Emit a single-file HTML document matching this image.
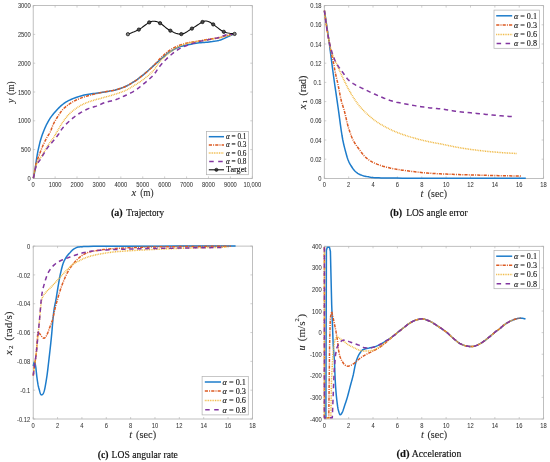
<!DOCTYPE html>
<html><head><meta charset="utf-8"><style>
html,body{margin:0;padding:0;background:#fff;}
body{width:550px;height:462px;overflow:hidden;}
svg{display:block;filter:blur(0.3px);}
.tk{font-family:"Liberation Sans",sans-serif;font-size:6.5px;fill:#333333;stroke:#333333;stroke-width:0.04px;}
.lg{font-family:"Liberation Serif",serif;fill:#111;stroke:#111;stroke-width:0.12px;}
.ax{font-family:"Liberation Serif",serif;fill:#2a2a2a;stroke:#2a2a2a;stroke-width:0.1px;}
.cap{font-family:"Liberation Serif",serif;fill:#111;stroke:#111;stroke-width:0.14px;}
</style></head><body>
<svg width="550" height="462" viewBox="0 0 550 462">
<rect width="550" height="462" fill="#fff"/>

<rect x="33.20" y="5.60" width="219.10" height="172.80" fill="none" stroke="#b0b0b0" stroke-width="0.8"/>
<line x1="33.20" y1="178.40" x2="33.20" y2="176.40" stroke="#b0b0b0" stroke-width="0.6"/>
<line x1="33.20" y1="5.60" x2="33.20" y2="7.60" stroke="#b0b0b0" stroke-width="0.6"/>
<text x="31.59" y="187.40" class="tk" textLength="3.23" lengthAdjust="spacingAndGlyphs">0</text>
<line x1="55.11" y1="178.40" x2="55.11" y2="176.40" stroke="#b0b0b0" stroke-width="0.6"/>
<line x1="55.11" y1="5.60" x2="55.11" y2="7.60" stroke="#b0b0b0" stroke-width="0.6"/>
<text x="48.66" y="187.40" class="tk" textLength="12.90" lengthAdjust="spacingAndGlyphs">1000</text>
<line x1="77.02" y1="178.40" x2="77.02" y2="176.40" stroke="#b0b0b0" stroke-width="0.6"/>
<line x1="77.02" y1="5.60" x2="77.02" y2="7.60" stroke="#b0b0b0" stroke-width="0.6"/>
<text x="70.57" y="187.40" class="tk" textLength="12.90" lengthAdjust="spacingAndGlyphs">2000</text>
<line x1="98.93" y1="178.40" x2="98.93" y2="176.40" stroke="#b0b0b0" stroke-width="0.6"/>
<line x1="98.93" y1="5.60" x2="98.93" y2="7.60" stroke="#b0b0b0" stroke-width="0.6"/>
<text x="92.48" y="187.40" class="tk" textLength="12.90" lengthAdjust="spacingAndGlyphs">3000</text>
<line x1="120.84" y1="178.40" x2="120.84" y2="176.40" stroke="#b0b0b0" stroke-width="0.6"/>
<line x1="120.84" y1="5.60" x2="120.84" y2="7.60" stroke="#b0b0b0" stroke-width="0.6"/>
<text x="114.39" y="187.40" class="tk" textLength="12.90" lengthAdjust="spacingAndGlyphs">4000</text>
<line x1="142.75" y1="178.40" x2="142.75" y2="176.40" stroke="#b0b0b0" stroke-width="0.6"/>
<line x1="142.75" y1="5.60" x2="142.75" y2="7.60" stroke="#b0b0b0" stroke-width="0.6"/>
<text x="136.30" y="187.40" class="tk" textLength="12.90" lengthAdjust="spacingAndGlyphs">5000</text>
<line x1="164.66" y1="178.40" x2="164.66" y2="176.40" stroke="#b0b0b0" stroke-width="0.6"/>
<line x1="164.66" y1="5.60" x2="164.66" y2="7.60" stroke="#b0b0b0" stroke-width="0.6"/>
<text x="158.21" y="187.40" class="tk" textLength="12.90" lengthAdjust="spacingAndGlyphs">6000</text>
<line x1="186.57" y1="178.40" x2="186.57" y2="176.40" stroke="#b0b0b0" stroke-width="0.6"/>
<line x1="186.57" y1="5.60" x2="186.57" y2="7.60" stroke="#b0b0b0" stroke-width="0.6"/>
<text x="180.12" y="187.40" class="tk" textLength="12.90" lengthAdjust="spacingAndGlyphs">7000</text>
<line x1="208.48" y1="178.40" x2="208.48" y2="176.40" stroke="#b0b0b0" stroke-width="0.6"/>
<line x1="208.48" y1="5.60" x2="208.48" y2="7.60" stroke="#b0b0b0" stroke-width="0.6"/>
<text x="202.03" y="187.40" class="tk" textLength="12.90" lengthAdjust="spacingAndGlyphs">8000</text>
<line x1="230.39" y1="178.40" x2="230.39" y2="176.40" stroke="#b0b0b0" stroke-width="0.6"/>
<line x1="230.39" y1="5.60" x2="230.39" y2="7.60" stroke="#b0b0b0" stroke-width="0.6"/>
<text x="223.94" y="187.40" class="tk" textLength="12.90" lengthAdjust="spacingAndGlyphs">9000</text>
<line x1="252.30" y1="178.40" x2="252.30" y2="176.40" stroke="#b0b0b0" stroke-width="0.6"/>
<line x1="252.30" y1="5.60" x2="252.30" y2="7.60" stroke="#b0b0b0" stroke-width="0.6"/>
<text x="243.43" y="187.40" class="tk" textLength="17.74" lengthAdjust="spacingAndGlyphs">10,000</text>
<line x1="33.20" y1="178.40" x2="35.20" y2="178.40" stroke="#b0b0b0" stroke-width="0.6"/>
<line x1="252.30" y1="178.40" x2="250.30" y2="178.40" stroke="#b0b0b0" stroke-width="0.6"/>
<text x="27.57" y="181.00" class="tk" textLength="3.23" lengthAdjust="spacingAndGlyphs">0</text>
<line x1="33.20" y1="149.60" x2="35.20" y2="149.60" stroke="#b0b0b0" stroke-width="0.6"/>
<line x1="252.30" y1="149.60" x2="250.30" y2="149.60" stroke="#b0b0b0" stroke-width="0.6"/>
<text x="21.12" y="152.20" class="tk" textLength="9.68" lengthAdjust="spacingAndGlyphs">500</text>
<line x1="33.20" y1="120.80" x2="35.20" y2="120.80" stroke="#b0b0b0" stroke-width="0.6"/>
<line x1="252.30" y1="120.80" x2="250.30" y2="120.80" stroke="#b0b0b0" stroke-width="0.6"/>
<text x="17.90" y="123.40" class="tk" textLength="12.90" lengthAdjust="spacingAndGlyphs">1000</text>
<line x1="33.20" y1="92.00" x2="35.20" y2="92.00" stroke="#b0b0b0" stroke-width="0.6"/>
<line x1="252.30" y1="92.00" x2="250.30" y2="92.00" stroke="#b0b0b0" stroke-width="0.6"/>
<text x="17.90" y="94.60" class="tk" textLength="12.90" lengthAdjust="spacingAndGlyphs">1500</text>
<line x1="33.20" y1="63.20" x2="35.20" y2="63.20" stroke="#b0b0b0" stroke-width="0.6"/>
<line x1="252.30" y1="63.20" x2="250.30" y2="63.20" stroke="#b0b0b0" stroke-width="0.6"/>
<text x="17.90" y="65.80" class="tk" textLength="12.90" lengthAdjust="spacingAndGlyphs">2000</text>
<line x1="33.20" y1="34.40" x2="35.20" y2="34.40" stroke="#b0b0b0" stroke-width="0.6"/>
<line x1="252.30" y1="34.40" x2="250.30" y2="34.40" stroke="#b0b0b0" stroke-width="0.6"/>
<text x="17.90" y="37.00" class="tk" textLength="12.90" lengthAdjust="spacingAndGlyphs">2500</text>
<line x1="33.20" y1="5.60" x2="35.20" y2="5.60" stroke="#b0b0b0" stroke-width="0.6"/>
<line x1="252.30" y1="5.60" x2="250.30" y2="5.60" stroke="#b0b0b0" stroke-width="0.6"/>
<text x="17.90" y="8.20" class="tk" textLength="12.90" lengthAdjust="spacingAndGlyphs">3000</text>
<path d="M33.40,178.20 L33.68,176.96 L33.97,175.62 L34.25,174.19 L34.53,172.67 L34.82,171.07 L35.10,169.40 L35.37,167.67 L35.63,165.74 L35.90,163.71 L36.17,161.68 L36.43,159.74 L36.70,158.00 L37.03,156.04 L37.37,154.18 L37.70,152.41 L38.03,150.73 L38.37,149.13 L38.70,147.60 L39.05,146.06 L39.40,144.57 L39.75,143.15 L40.10,141.80 L40.45,140.51 L40.80,139.30 L41.23,137.89 L41.67,136.56 L42.10,135.29 L42.53,134.09 L42.97,132.92 L43.40,131.80 L43.92,130.50 L44.43,129.24 L44.95,128.03 L45.47,126.86 L45.98,125.75 L46.50,124.70 L47.23,123.27 L47.97,121.90 L48.70,120.59 L49.43,119.35 L50.17,118.19 L50.90,117.10 L51.82,115.84 L52.73,114.67 L53.65,113.57 L54.57,112.52 L55.48,111.50 L56.40,110.50 L57.30,109.52 L58.20,108.55 L59.10,107.61 L60.00,106.71 L60.90,105.87 L61.80,105.10 L62.90,104.24 L64.00,103.43 L65.10,102.66 L66.20,101.95 L67.30,101.30 L68.40,100.70 L69.67,100.07 L70.93,99.48 L72.20,98.93 L73.47,98.42 L74.73,97.95 L76.00,97.50 L77.63,96.95 L79.27,96.41 L80.90,95.91 L82.53,95.45 L84.17,95.05 L85.80,94.70 L87.30,94.44 L88.80,94.21 L90.30,94.00 L91.80,93.81 L93.30,93.61 L94.80,93.40 L96.43,93.16 L98.07,92.91 L99.70,92.67 L101.33,92.42 L102.97,92.16 L104.60,91.90 L106.25,91.64 L107.90,91.39 L109.55,91.13 L111.20,90.85 L112.85,90.55 L114.50,90.20 L116.13,89.80 L117.77,89.34 L119.40,88.83 L121.03,88.26 L122.67,87.65 L124.30,87.00 L125.93,86.28 L127.57,85.46 L129.20,84.57 L130.83,83.62 L132.47,82.63 L134.10,81.60 L135.73,80.52 L137.37,79.38 L139.00,78.17 L140.63,76.91 L142.27,75.62 L143.90,74.30 L145.53,72.94 L147.17,71.51 L148.80,70.05 L150.43,68.56 L152.07,67.07 L153.70,65.60 L154.75,64.66 L155.80,63.72 L156.85,62.78 L157.90,61.84 L158.95,60.92 L160.00,60.00 L161.63,58.55 L163.27,57.07 L164.90,55.61 L166.53,54.21 L168.17,52.92 L169.80,51.80 L171.43,50.80 L173.07,49.86 L174.70,48.98 L176.33,48.19 L177.97,47.49 L179.60,46.90 L181.25,46.39 L182.90,45.95 L184.55,45.55 L186.20,45.18 L187.85,44.83 L189.50,44.50 L191.13,44.17 L192.77,43.85 L194.40,43.54 L196.03,43.26 L197.67,43.01 L199.30,42.80 L200.93,42.64 L202.57,42.51 L204.20,42.40 L205.83,42.28 L207.47,42.16 L209.10,42.00 L210.73,41.81 L212.37,41.60 L214.00,41.35 L215.63,41.08 L217.27,40.76 L218.90,40.40 L220.53,39.93 L222.17,39.31 L223.80,38.59 L225.43,37.82 L227.07,37.04 L228.70,36.30 L229.52,35.94 L230.33,35.58 L231.15,35.21 L231.97,34.85 L232.78,34.47 L233.60,34.10" fill="none" stroke="#1d7ccb" stroke-width="1.50" stroke-linejoin="round" />
<path d="M33.40,178.20 L33.87,175.18 L34.33,172.32 L34.80,169.65 L35.27,167.22 L35.73,165.06 L36.20,163.20 L36.72,161.47 L37.23,159.96 L37.75,158.61 L38.27,157.35 L38.78,156.10 L39.30,154.80 L39.98,153.01 L40.67,151.21 L41.35,149.44 L42.03,147.72 L42.72,146.06 L43.40,144.50 L44.02,143.17 L44.63,141.89 L45.25,140.67 L45.87,139.48 L46.48,138.33 L47.10,137.20 L47.62,136.31 L48.13,135.48 L48.65,134.68 L49.17,133.86 L49.68,132.98 L50.20,132.00 L50.68,130.92 L51.17,129.69 L51.65,128.38 L52.13,127.06 L52.62,125.81 L53.10,124.70 L53.82,123.25 L54.53,121.89 L55.25,120.61 L55.97,119.40 L56.68,118.24 L57.40,117.10 L58.32,115.66 L59.23,114.25 L60.15,112.89 L61.07,111.61 L61.98,110.44 L62.90,109.40 L63.98,108.31 L65.07,107.32 L66.15,106.40 L67.23,105.55 L68.32,104.75 L69.40,104.00 L70.68,103.15 L71.97,102.34 L73.25,101.58 L74.53,100.87 L75.82,100.21 L77.10,99.60 L78.55,98.97 L80.00,98.39 L81.45,97.85 L82.90,97.34 L84.35,96.86 L85.80,96.40 L87.30,95.95 L88.80,95.52 L90.30,95.12 L91.80,94.73 L93.30,94.36 L94.80,94.00 L96.43,93.62 L98.07,93.25 L99.70,92.89 L101.33,92.55 L102.97,92.22 L104.60,91.90 L106.25,91.61 L107.90,91.34 L109.55,91.09 L111.20,90.83 L112.85,90.54 L114.50,90.20 L116.13,89.80 L117.77,89.34 L119.40,88.83 L121.03,88.26 L122.67,87.65 L124.30,87.00 L125.93,86.28 L127.57,85.46 L129.20,84.57 L130.83,83.62 L132.47,82.63 L134.10,81.60 L135.73,80.52 L137.37,79.38 L139.00,78.17 L140.63,76.91 L142.27,75.62 L143.90,74.30 L145.53,72.96 L147.17,71.59 L148.80,70.18 L150.43,68.71 L152.07,67.19 L153.70,65.60 L154.75,64.50 L155.80,63.31 L156.85,62.09 L157.90,60.86 L158.95,59.69 L160.00,58.60 L161.63,57.01 L163.27,55.46 L164.90,53.98 L166.53,52.59 L168.17,51.32 L169.80,50.20 L171.43,49.20 L173.07,48.28 L174.70,47.42 L176.33,46.64 L177.97,45.93 L179.60,45.30 L181.25,44.73 L182.90,44.20 L184.55,43.71 L186.20,43.26 L187.85,42.86 L189.50,42.50 L191.13,42.18 L192.77,41.91 L194.40,41.65 L196.03,41.41 L197.67,41.16 L199.30,40.90 L200.93,40.62 L202.57,40.34 L204.20,40.05 L205.83,39.76 L207.47,39.48 L209.10,39.20 L210.73,38.94 L212.37,38.69 L214.00,38.44 L215.63,38.19 L217.27,37.91 L218.90,37.60 L220.53,37.23 L222.17,36.79 L223.80,36.31 L225.43,35.84 L227.07,35.39 L228.70,35.00 L229.52,34.83 L230.33,34.67 L231.15,34.52 L231.97,34.37 L232.78,34.23 L233.60,34.10" fill="none" stroke="#dc5a22" stroke-width="1.50" stroke-dasharray="3.2,1.1,1.0,1.1" stroke-linejoin="round" />
<path d="M33.40,178.20 L33.87,175.60 L34.33,173.06 L34.80,170.67 L35.27,168.50 L35.73,166.65 L36.20,165.20 L37.23,162.79 L38.27,160.86 L39.30,159.26 L40.33,157.83 L41.37,156.39 L42.40,154.80 L43.43,153.06 L44.47,151.29 L45.50,149.53 L46.53,147.80 L47.57,146.11 L48.60,144.50 L49.47,143.23 L50.33,142.03 L51.20,140.86 L52.07,139.69 L52.93,138.48 L53.80,137.20 L54.32,136.38 L54.83,135.53 L55.35,134.66 L55.87,133.77 L56.38,132.88 L56.90,132.00 L57.72,130.59 L58.53,129.14 L59.35,127.68 L60.17,126.25 L60.98,124.88 L61.80,123.60 L62.90,121.97 L64.00,120.39 L65.10,118.87 L66.20,117.44 L67.30,116.11 L68.40,114.90 L69.67,113.62 L70.93,112.43 L72.20,111.32 L73.47,110.28 L74.73,109.31 L76.00,108.40 L77.27,107.55 L78.53,106.74 L79.80,105.98 L81.07,105.27 L82.33,104.61 L83.60,104.00 L85.05,103.36 L86.50,102.76 L87.95,102.20 L89.40,101.67 L90.85,101.18 L92.30,100.70 L94.35,100.07 L96.40,99.49 L98.45,98.94 L100.50,98.41 L102.55,97.87 L104.60,97.30 L106.25,96.83 L107.90,96.36 L109.55,95.89 L111.20,95.41 L112.85,94.91 L114.50,94.40 L116.13,93.88 L117.77,93.37 L119.40,92.83 L121.03,92.27 L122.67,91.66 L124.30,91.00 L125.93,90.25 L127.57,89.42 L129.20,88.52 L130.83,87.57 L132.47,86.59 L134.10,85.60 L135.73,84.60 L137.37,83.57 L139.00,82.50 L140.63,81.39 L142.27,80.22 L143.90,79.00 L145.53,77.73 L147.17,76.40 L148.80,75.01 L150.43,73.53 L152.07,71.93 L153.70,70.20 L154.75,68.91 L155.80,67.44 L156.85,65.86 L157.90,64.28 L158.95,62.80 L160.00,61.50 L161.63,59.74 L163.27,58.10 L164.90,56.56 L166.53,55.13 L168.17,53.78 L169.80,52.50 L171.43,51.26 L173.07,50.05 L174.70,48.91 L176.33,47.85 L177.97,46.90 L179.60,46.10 L181.25,45.40 L182.90,44.76 L184.55,44.17 L186.20,43.65 L187.85,43.19 L189.50,42.80 L191.13,42.47 L192.77,42.19 L194.40,41.93 L196.03,41.69 L197.67,41.45 L199.30,41.20 L200.93,40.93 L202.57,40.67 L204.20,40.41 L205.83,40.14 L207.47,39.87 L209.10,39.60 L210.73,39.33 L212.37,39.06 L214.00,38.79 L215.63,38.51 L217.27,38.22 L218.90,37.90 L220.53,37.55 L222.17,37.18 L223.80,36.78 L225.43,36.36 L227.07,35.93 L228.70,35.50 L229.52,35.28 L230.33,35.05 L231.15,34.82 L231.97,34.58 L232.78,34.34 L233.60,34.10" fill="none" stroke="#efb53a" stroke-width="1.50" stroke-dasharray="0.9,0.8" stroke-linejoin="round" />
<path d="M33.40,178.20 L33.87,175.80 L34.33,173.48 L34.80,171.30 L35.27,169.33 L35.73,167.64 L36.20,166.30 L37.05,164.43 L37.90,162.91 L38.75,161.63 L39.60,160.46 L40.45,159.29 L41.30,158.00 L42.35,156.24 L43.40,154.42 L44.45,152.59 L45.50,150.81 L46.55,149.13 L47.60,147.60 L48.63,146.25 L49.67,145.01 L50.70,143.84 L51.73,142.69 L52.77,141.53 L53.80,140.30 L54.67,139.24 L55.53,138.17 L56.40,137.09 L57.27,135.98 L58.13,134.82 L59.00,133.60 L59.47,132.88 L59.93,132.11 L60.40,131.31 L60.87,130.52 L61.33,129.77 L61.80,129.10 L62.90,127.71 L64.00,126.43 L65.10,125.24 L66.20,124.12 L67.30,123.05 L68.40,122.00 L69.48,120.99 L70.57,120.02 L71.65,119.08 L72.73,118.19 L73.82,117.32 L74.90,116.50 L75.98,115.71 L77.07,114.94 L78.15,114.21 L79.23,113.50 L80.32,112.83 L81.40,112.20 L82.68,111.48 L83.97,110.79 L85.25,110.13 L86.53,109.51 L87.82,108.93 L89.10,108.40 L90.55,107.87 L92.00,107.41 L93.45,106.98 L94.90,106.56 L96.35,106.11 L97.80,105.60 L98.93,105.13 L100.07,104.61 L101.20,104.06 L102.33,103.52 L103.47,103.02 L104.60,102.60 L106.25,102.11 L107.90,101.70 L109.55,101.34 L111.20,100.97 L112.85,100.57 L114.50,100.10 L116.13,99.54 L117.77,98.91 L119.40,98.22 L121.03,97.50 L122.67,96.75 L124.30,96.00 L125.93,95.26 L127.57,94.50 L129.20,93.73 L130.83,92.91 L132.47,92.04 L134.10,91.10 L135.73,90.06 L137.37,88.91 L139.00,87.68 L140.63,86.39 L142.27,85.05 L143.90,83.70 L145.53,82.35 L147.17,80.98 L148.80,79.56 L150.43,78.06 L152.07,76.45 L153.70,74.70 L154.75,73.41 L155.80,71.96 L156.85,70.41 L157.90,68.85 L158.95,67.35 L160.00,66.00 L161.63,64.09 L163.27,62.28 L164.90,60.55 L166.53,58.91 L168.17,57.36 L169.80,55.90 L171.43,54.50 L173.07,53.14 L174.70,51.84 L176.33,50.64 L177.97,49.55 L179.60,48.60 L181.25,47.77 L182.90,47.01 L184.55,46.33 L186.20,45.69 L187.85,45.08 L189.50,44.50 L191.13,43.93 L192.77,43.38 L194.40,42.86 L196.03,42.37 L197.67,41.91 L199.30,41.50 L200.93,41.14 L202.57,40.81 L204.20,40.50 L205.83,40.21 L207.47,39.91 L209.10,39.60 L210.73,39.28 L212.37,38.98 L214.00,38.67 L215.63,38.34 L217.27,37.99 L218.90,37.60 L220.53,37.08 L222.17,36.42 L223.80,35.72 L225.43,35.07 L227.07,34.56 L228.70,34.30 L229.52,34.25 L230.33,34.20 L231.15,34.16 L231.97,34.13 L232.78,34.11 L233.60,34.10" fill="none" stroke="#8236a0" stroke-width="1.50" stroke-dasharray="4.4,3.6" stroke-linejoin="round" />
<path d="M127.90,34.20 L128.74,33.86 L129.87,33.43 L131.21,32.93 L132.70,32.35 L134.27,31.72 L135.85,31.04 L137.39,30.33 L138.80,29.60 L140.16,28.78 L141.55,27.84 L142.96,26.82 L144.34,25.78 L145.69,24.77 L146.96,23.83 L148.14,23.03 L149.20,22.40 L150.11,21.95 L150.90,21.63 L151.59,21.41 L152.21,21.28 L152.79,21.22 L153.36,21.22 L153.95,21.25 L154.60,21.30 L155.25,21.36 L155.86,21.43 L156.44,21.55 L157.04,21.71 L157.68,21.95 L158.39,22.26 L159.18,22.67 L160.10,23.20 L161.15,23.90 L162.32,24.78 L163.58,25.78 L164.91,26.86 L166.28,27.94 L167.67,28.98 L169.05,29.92 L170.40,30.70 L171.74,31.38 L173.09,32.05 L174.46,32.67 L175.83,33.21 L177.21,33.66 L178.58,33.97 L179.95,34.13 L181.30,34.10 L182.64,33.85 L183.97,33.38 L185.30,32.74 L186.62,31.98 L187.94,31.13 L189.26,30.26 L190.58,29.40 L191.90,28.60 L193.26,27.79 L194.68,26.89 L196.12,25.95 L197.54,25.00 L198.93,24.09 L200.24,23.26 L201.44,22.55 L202.50,22.00 L203.40,21.60 L204.15,21.32 L204.79,21.14 L205.36,21.04 L205.89,21.02 L206.42,21.07 L206.98,21.17 L207.60,21.30 L208.24,21.48 L208.85,21.71 L209.44,22.00 L210.06,22.34 L210.71,22.76 L211.44,23.23 L212.26,23.78 L213.20,24.40 L214.28,25.16 L215.49,26.07 L216.80,27.09 L218.18,28.16 L219.59,29.22 L221.02,30.22 L222.43,31.10 L223.80,31.80 L225.21,32.33 L226.74,32.75 L228.31,33.07 L229.86,33.31 L231.33,33.50 L232.65,33.65 L233.77,33.77 L234.60,33.90" fill="none" stroke="#111" stroke-width="1.1"/>
<circle cx="127.90" cy="34.20" r="1.65" fill="#8a8a8a" stroke="#111" stroke-width="0.75"/>
<circle cx="138.80" cy="29.60" r="1.65" fill="#4a4a4a" stroke="#111" stroke-width="0.75"/>
<circle cx="149.20" cy="22.40" r="1.65" fill="#4a4a4a" stroke="#111" stroke-width="0.75"/>
<circle cx="160.10" cy="23.20" r="1.65" fill="#4a4a4a" stroke="#111" stroke-width="0.75"/>
<circle cx="170.40" cy="30.70" r="1.65" fill="#4a4a4a" stroke="#111" stroke-width="0.75"/>
<circle cx="181.30" cy="34.10" r="1.65" fill="#4a4a4a" stroke="#111" stroke-width="0.75"/>
<circle cx="191.90" cy="28.60" r="1.65" fill="#4a4a4a" stroke="#111" stroke-width="0.75"/>
<circle cx="202.50" cy="22.00" r="1.65" fill="#4a4a4a" stroke="#111" stroke-width="0.75"/>
<circle cx="213.20" cy="24.40" r="1.65" fill="#4a4a4a" stroke="#111" stroke-width="0.75"/>
<circle cx="223.80" cy="31.80" r="1.65" fill="#4a4a4a" stroke="#111" stroke-width="0.75"/>
<circle cx="234.60" cy="33.90" r="1.65" fill="#8a8a8a" stroke="#111" stroke-width="0.75"/>
<rect x="206.50" y="131.40" width="41.90" height="43.30" fill="#fff" stroke="#b0b0b0" stroke-width="0.7"/>
<line x1="208.80" y1="136.70" x2="224.00" y2="136.70" stroke="#1d7ccb" stroke-width="1.50"/>
<text x="226.00" y="139.29" class="lg" style="font-size:7.20px" textLength="20.50" lengthAdjust="spacingAndGlyphs"><tspan font-style="italic">&#945;</tspan> = 0.1</text>
<line x1="208.80" y1="144.90" x2="224.00" y2="144.90" stroke="#dc5a22" stroke-width="1.50" stroke-dasharray="3.2,1.1,1.0,1.1"/>
<text x="226.00" y="147.49" class="lg" style="font-size:7.20px" textLength="20.50" lengthAdjust="spacingAndGlyphs"><tspan font-style="italic">&#945;</tspan> = 0.3</text>
<line x1="208.80" y1="153.10" x2="224.00" y2="153.10" stroke="#efb53a" stroke-width="1.50" stroke-dasharray="0.9,0.8"/>
<text x="226.00" y="155.69" class="lg" style="font-size:7.20px" textLength="20.50" lengthAdjust="spacingAndGlyphs"><tspan font-style="italic">&#945;</tspan> = 0.6</text>
<line x1="208.80" y1="161.40" x2="224.00" y2="161.40" stroke="#8236a0" stroke-width="1.50" stroke-dasharray="4.5,4.5" stroke-dashoffset="-0.4"/>
<text x="226.00" y="163.99" class="lg" style="font-size:7.20px" textLength="20.50" lengthAdjust="spacingAndGlyphs"><tspan font-style="italic">&#945;</tspan> = 0.8</text>
<line x1="208.80" y1="169.80" x2="224.00" y2="169.80" stroke="#111" stroke-width="1.1"/>
<circle cx="216.40" cy="169.80" r="1.6" fill="#333" stroke="#111" stroke-width="0.6"/>
<text x="226.00" y="172.39" class="lg" style="font-size:7.20px" textLength="20.50" lengthAdjust="spacingAndGlyphs">Target</text>
<text x="131.50" y="195.60" class="ax" style="font-size:10.60px;font-style:italic">x</text>
<text x="140.30" y="195.60" class="ax" style="font-size:10.60px" textLength="13.30" lengthAdjust="spacingAndGlyphs">(m)</text>
<text transform="translate(14.10,0) rotate(-90)" x="-103.00" y="0.00" class="ax" style="font-size:10.00px;font-style:italic">y</text>
<text transform="translate(14.10,0) rotate(-90)" x="-95.00" y="0.00" class="ax" style="font-size:10.00px" textLength="13.80" lengthAdjust="spacingAndGlyphs">(m)</text>
<text x="110.90" y="215.80" class="cap" style="font-size:9.90px;font-weight:bold" textLength="11.80" lengthAdjust="spacingAndGlyphs">(a)</text>
<text x="126.30" y="215.80" class="cap" style="font-size:9.90px" textLength="37.80" lengthAdjust="spacingAndGlyphs">Trajectory</text>
<rect x="324.30" y="5.60" width="219.30" height="172.80" fill="none" stroke="#b0b0b0" stroke-width="0.8"/>
<line x1="324.30" y1="178.40" x2="324.30" y2="176.40" stroke="#b0b0b0" stroke-width="0.6"/>
<line x1="324.30" y1="5.60" x2="324.30" y2="7.60" stroke="#b0b0b0" stroke-width="0.6"/>
<text x="322.69" y="187.25" class="tk" textLength="3.23" lengthAdjust="spacingAndGlyphs">0</text>
<line x1="348.67" y1="178.40" x2="348.67" y2="176.40" stroke="#b0b0b0" stroke-width="0.6"/>
<line x1="348.67" y1="5.60" x2="348.67" y2="7.60" stroke="#b0b0b0" stroke-width="0.6"/>
<text x="347.05" y="187.25" class="tk" textLength="3.23" lengthAdjust="spacingAndGlyphs">2</text>
<line x1="373.03" y1="178.40" x2="373.03" y2="176.40" stroke="#b0b0b0" stroke-width="0.6"/>
<line x1="373.03" y1="5.60" x2="373.03" y2="7.60" stroke="#b0b0b0" stroke-width="0.6"/>
<text x="371.42" y="187.25" class="tk" textLength="3.23" lengthAdjust="spacingAndGlyphs">4</text>
<line x1="397.40" y1="178.40" x2="397.40" y2="176.40" stroke="#b0b0b0" stroke-width="0.6"/>
<line x1="397.40" y1="5.60" x2="397.40" y2="7.60" stroke="#b0b0b0" stroke-width="0.6"/>
<text x="395.79" y="187.25" class="tk" textLength="3.23" lengthAdjust="spacingAndGlyphs">6</text>
<line x1="421.77" y1="178.40" x2="421.77" y2="176.40" stroke="#b0b0b0" stroke-width="0.6"/>
<line x1="421.77" y1="5.60" x2="421.77" y2="7.60" stroke="#b0b0b0" stroke-width="0.6"/>
<text x="420.15" y="187.25" class="tk" textLength="3.23" lengthAdjust="spacingAndGlyphs">8</text>
<line x1="446.13" y1="178.40" x2="446.13" y2="176.40" stroke="#b0b0b0" stroke-width="0.6"/>
<line x1="446.13" y1="5.60" x2="446.13" y2="7.60" stroke="#b0b0b0" stroke-width="0.6"/>
<text x="442.91" y="187.25" class="tk" textLength="6.45" lengthAdjust="spacingAndGlyphs">10</text>
<line x1="470.50" y1="178.40" x2="470.50" y2="176.40" stroke="#b0b0b0" stroke-width="0.6"/>
<line x1="470.50" y1="5.60" x2="470.50" y2="7.60" stroke="#b0b0b0" stroke-width="0.6"/>
<text x="467.27" y="187.25" class="tk" textLength="6.45" lengthAdjust="spacingAndGlyphs">12</text>
<line x1="494.87" y1="178.40" x2="494.87" y2="176.40" stroke="#b0b0b0" stroke-width="0.6"/>
<line x1="494.87" y1="5.60" x2="494.87" y2="7.60" stroke="#b0b0b0" stroke-width="0.6"/>
<text x="491.64" y="187.25" class="tk" textLength="6.45" lengthAdjust="spacingAndGlyphs">14</text>
<line x1="519.23" y1="178.40" x2="519.23" y2="176.40" stroke="#b0b0b0" stroke-width="0.6"/>
<line x1="519.23" y1="5.60" x2="519.23" y2="7.60" stroke="#b0b0b0" stroke-width="0.6"/>
<text x="516.01" y="187.25" class="tk" textLength="6.45" lengthAdjust="spacingAndGlyphs">16</text>
<line x1="543.60" y1="178.40" x2="543.60" y2="176.40" stroke="#b0b0b0" stroke-width="0.6"/>
<line x1="543.60" y1="5.60" x2="543.60" y2="7.60" stroke="#b0b0b0" stroke-width="0.6"/>
<text x="540.37" y="187.25" class="tk" textLength="6.45" lengthAdjust="spacingAndGlyphs">18</text>
<line x1="324.30" y1="178.40" x2="326.30" y2="178.40" stroke="#b0b0b0" stroke-width="0.6"/>
<line x1="543.60" y1="178.40" x2="541.60" y2="178.40" stroke="#b0b0b0" stroke-width="0.6"/>
<text x="318.37" y="181.00" class="tk" textLength="3.23" lengthAdjust="spacingAndGlyphs">0</text>
<line x1="324.30" y1="159.20" x2="326.30" y2="159.20" stroke="#b0b0b0" stroke-width="0.6"/>
<line x1="543.60" y1="159.20" x2="541.60" y2="159.20" stroke="#b0b0b0" stroke-width="0.6"/>
<text x="310.31" y="161.80" class="tk" textLength="11.29" lengthAdjust="spacingAndGlyphs">0.02</text>
<line x1="324.30" y1="140.00" x2="326.30" y2="140.00" stroke="#b0b0b0" stroke-width="0.6"/>
<line x1="543.60" y1="140.00" x2="541.60" y2="140.00" stroke="#b0b0b0" stroke-width="0.6"/>
<text x="310.31" y="142.60" class="tk" textLength="11.29" lengthAdjust="spacingAndGlyphs">0.04</text>
<line x1="324.30" y1="120.80" x2="326.30" y2="120.80" stroke="#b0b0b0" stroke-width="0.6"/>
<line x1="543.60" y1="120.80" x2="541.60" y2="120.80" stroke="#b0b0b0" stroke-width="0.6"/>
<text x="310.31" y="123.40" class="tk" textLength="11.29" lengthAdjust="spacingAndGlyphs">0.06</text>
<line x1="324.30" y1="101.60" x2="326.30" y2="101.60" stroke="#b0b0b0" stroke-width="0.6"/>
<line x1="543.60" y1="101.60" x2="541.60" y2="101.60" stroke="#b0b0b0" stroke-width="0.6"/>
<text x="310.31" y="104.20" class="tk" textLength="11.29" lengthAdjust="spacingAndGlyphs">0.08</text>
<line x1="324.30" y1="82.40" x2="326.30" y2="82.40" stroke="#b0b0b0" stroke-width="0.6"/>
<line x1="543.60" y1="82.40" x2="541.60" y2="82.40" stroke="#b0b0b0" stroke-width="0.6"/>
<text x="313.54" y="85.00" class="tk" textLength="8.06" lengthAdjust="spacingAndGlyphs">0.1</text>
<line x1="324.30" y1="63.20" x2="326.30" y2="63.20" stroke="#b0b0b0" stroke-width="0.6"/>
<line x1="543.60" y1="63.20" x2="541.60" y2="63.20" stroke="#b0b0b0" stroke-width="0.6"/>
<text x="310.31" y="65.80" class="tk" textLength="11.29" lengthAdjust="spacingAndGlyphs">0.12</text>
<line x1="324.30" y1="44.00" x2="326.30" y2="44.00" stroke="#b0b0b0" stroke-width="0.6"/>
<line x1="543.60" y1="44.00" x2="541.60" y2="44.00" stroke="#b0b0b0" stroke-width="0.6"/>
<text x="310.31" y="46.60" class="tk" textLength="11.29" lengthAdjust="spacingAndGlyphs">0.14</text>
<line x1="324.30" y1="24.80" x2="326.30" y2="24.80" stroke="#b0b0b0" stroke-width="0.6"/>
<line x1="543.60" y1="24.80" x2="541.60" y2="24.80" stroke="#b0b0b0" stroke-width="0.6"/>
<text x="310.31" y="27.40" class="tk" textLength="11.29" lengthAdjust="spacingAndGlyphs">0.16</text>
<line x1="324.30" y1="5.60" x2="326.30" y2="5.60" stroke="#b0b0b0" stroke-width="0.6"/>
<line x1="543.60" y1="5.60" x2="541.60" y2="5.60" stroke="#b0b0b0" stroke-width="0.6"/>
<text x="310.31" y="8.20" class="tk" textLength="11.29" lengthAdjust="spacingAndGlyphs">0.18</text>
<path d="M324.40,10.60 L325.13,15.17 L325.87,19.86 L326.60,24.67 L327.33,29.60 L328.07,34.64 L328.80,39.80 L329.57,45.41 L330.33,51.28 L331.10,57.29 L331.87,63.33 L332.63,69.27 L333.40,75.00 L334.17,80.51 L334.93,85.91 L335.70,91.21 L336.47,96.47 L337.23,101.72 L338.00,107.00 L338.80,112.72 L339.60,118.66 L340.40,124.60 L341.20,130.29 L342.00,135.50 L342.80,140.00 L343.25,142.19 L343.70,144.22 L344.15,146.11 L344.60,147.90 L345.05,149.62 L345.50,151.30 L345.93,152.91 L346.37,154.51 L346.80,156.05 L347.23,157.51 L347.67,158.84 L348.10,160.00 L348.62,161.22 L349.13,162.33 L349.65,163.34 L350.17,164.28 L350.68,165.16 L351.20,166.00 L351.85,167.02 L352.50,168.00 L353.15,168.93 L353.80,169.79 L354.45,170.55 L355.10,171.20 L355.97,171.96 L356.83,172.65 L357.70,173.27 L358.57,173.82 L359.43,174.30 L360.30,174.70 L361.25,175.07 L362.20,175.40 L363.15,175.70 L364.10,175.96 L365.05,176.19 L366.00,176.40 L367.15,176.64 L368.30,176.86 L369.45,177.07 L370.60,177.25 L371.75,177.40 L372.90,177.50 L374.92,177.63 L376.93,177.74 L378.95,177.84 L380.97,177.91 L382.98,177.97 L385.00,178.00 L390.83,178.06 L396.67,178.11 L402.50,178.14 L408.33,178.17 L414.17,178.19 L420.00,178.20 L437.63,178.23 L455.27,178.25 L472.90,178.27 L490.53,178.29 L508.17,178.30 L525.80,178.30" fill="none" stroke="#1d7ccb" stroke-width="1.50" stroke-linejoin="round" />
<path d="M324.40,10.60 L325.13,16.00 L325.87,21.17 L326.60,26.13 L327.33,30.88 L328.07,35.43 L328.80,39.80 L329.17,41.90 L329.53,43.93 L329.90,45.90 L330.27,47.81 L330.63,49.67 L331.00,51.50 L331.42,53.50 L331.83,55.40 L332.25,57.26 L332.67,59.12 L333.08,61.01 L333.50,63.00 L333.85,64.78 L334.20,66.64 L334.55,68.55 L334.90,70.44 L335.25,72.28 L335.60,74.00 L335.93,75.52 L336.27,76.96 L336.60,78.35 L336.93,79.73 L337.27,81.13 L337.60,82.60 L338.25,85.70 L338.90,89.00 L339.55,92.38 L340.20,95.68 L340.85,98.77 L341.50,101.50 L341.93,103.07 L342.37,104.50 L342.80,105.84 L343.23,107.16 L343.67,108.52 L344.10,110.00 L344.85,112.88 L345.60,116.04 L346.35,119.32 L347.10,122.55 L347.85,125.56 L348.60,128.20 L349.37,130.59 L350.13,132.85 L350.90,134.96 L351.67,136.92 L352.43,138.71 L353.20,140.30 L354.20,142.14 L355.20,143.78 L356.20,145.28 L357.20,146.69 L358.20,148.05 L359.20,149.40 L360.22,150.80 L361.23,152.20 L362.25,153.55 L363.27,154.83 L364.28,155.99 L365.30,157.00 L366.57,158.10 L367.83,159.11 L369.10,160.04 L370.37,160.88 L371.63,161.63 L372.90,162.30 L374.92,163.25 L376.93,164.11 L378.95,164.88 L380.97,165.58 L382.98,166.22 L385.00,166.80 L386.40,167.17 L387.80,167.52 L389.20,167.85 L390.60,168.15 L392.00,168.44 L393.40,168.70 L396.47,169.24 L399.53,169.73 L402.60,170.19 L405.67,170.62 L408.73,171.02 L411.80,171.40 L414.87,171.77 L417.93,172.13 L421.00,172.48 L424.07,172.79 L427.13,173.07 L430.20,173.30 L431.83,173.40 L433.47,173.49 L435.10,173.58 L436.73,173.66 L438.37,173.73 L440.00,173.80 L446.13,174.06 L452.27,174.30 L458.40,174.53 L464.53,174.74 L470.67,174.93 L476.80,175.10 L484.17,175.29 L491.53,175.46 L498.90,175.63 L506.27,175.77 L513.63,175.90 L521.00,176.00" fill="none" stroke="#dc5a22" stroke-width="1.50" stroke-dasharray="3.2,1.1,1.0,1.1" stroke-linejoin="round" />
<path d="M324.40,10.60 L325.13,16.31 L325.87,21.68 L326.60,26.71 L327.33,31.40 L328.07,35.76 L328.80,39.80 L329.17,41.71 L329.53,43.54 L329.90,45.28 L330.27,46.91 L330.63,48.43 L331.00,49.80 L331.42,51.21 L331.83,52.51 L332.25,53.71 L332.67,54.84 L333.08,55.93 L333.50,57.00 L334.05,58.36 L334.60,59.65 L335.15,60.89 L335.70,62.09 L336.25,63.29 L336.80,64.50 L338.20,67.63 L339.60,70.76 L341.00,73.86 L342.40,76.90 L343.80,79.86 L345.20,82.70 L346.45,85.16 L347.70,87.57 L348.95,89.92 L350.20,92.19 L351.45,94.36 L352.70,96.40 L353.97,98.37 L355.23,100.27 L356.50,102.10 L357.77,103.83 L359.03,105.47 L360.30,107.00 L361.82,108.70 L363.33,110.30 L364.85,111.81 L366.37,113.25 L367.88,114.64 L369.40,116.00 L370.33,116.83 L371.27,117.64 L372.20,118.42 L373.13,119.18 L374.07,119.91 L375.00,120.60 L376.53,121.67 L378.07,122.67 L379.60,123.64 L381.13,124.55 L382.67,125.44 L384.20,126.30 L385.73,127.14 L387.27,127.96 L388.80,128.75 L390.33,129.51 L391.87,130.23 L393.40,130.90 L396.47,132.16 L399.53,133.34 L402.60,134.45 L405.67,135.49 L408.73,136.47 L411.80,137.40 L414.87,138.28 L417.93,139.11 L421.00,139.89 L424.07,140.64 L427.13,141.34 L430.20,142.00 L431.83,142.33 L433.47,142.63 L435.10,142.92 L436.73,143.21 L438.37,143.50 L440.00,143.80 L443.07,144.41 L446.13,145.05 L449.20,145.70 L452.27,146.34 L455.33,146.95 L458.40,147.50 L461.47,148.01 L464.53,148.50 L467.60,148.96 L470.67,149.40 L473.73,149.81 L476.80,150.20 L479.87,150.56 L482.93,150.91 L486.00,151.24 L489.07,151.55 L492.13,151.84 L495.20,152.10 L498.77,152.38 L502.33,152.65 L505.90,152.89 L509.47,153.12 L513.03,153.32 L516.60,153.50" fill="none" stroke="#efb53a" stroke-width="1.50" stroke-dasharray="0.9,0.8" stroke-linejoin="round" />
<path d="M324.40,10.60 L325.13,16.50 L325.87,22.00 L326.60,27.07 L327.33,31.73 L328.07,35.97 L328.80,39.80 L329.17,41.54 L329.53,43.14 L329.90,44.64 L330.27,46.07 L330.63,47.45 L331.00,48.80 L331.33,50.02 L331.67,51.21 L332.00,52.37 L332.33,53.48 L332.67,54.53 L333.00,55.50 L333.50,56.86 L334.00,58.14 L334.50,59.35 L335.00,60.48 L335.50,61.53 L336.00,62.50 L337.17,64.55 L338.33,66.38 L339.50,68.06 L340.67,69.65 L341.83,71.21 L343.00,72.80 L343.87,74.03 L344.73,75.29 L345.60,76.53 L346.47,77.70 L347.33,78.78 L348.20,79.70 L349.20,80.62 L350.20,81.45 L351.20,82.21 L352.20,82.92 L353.20,83.58 L354.20,84.20 L355.72,85.08 L357.23,85.89 L358.75,86.64 L360.27,87.36 L361.78,88.07 L363.30,88.80 L365.25,89.75 L367.20,90.70 L369.15,91.64 L371.10,92.56 L373.05,93.45 L375.00,94.30 L378.07,95.62 L381.13,96.94 L384.20,98.22 L387.27,99.42 L390.33,100.49 L393.40,101.40 L396.47,102.16 L399.53,102.84 L402.60,103.46 L405.67,104.03 L408.73,104.57 L411.80,105.10 L414.87,105.63 L417.93,106.15 L421.00,106.64 L424.07,107.11 L427.13,107.53 L430.20,107.90 L431.83,108.07 L433.47,108.21 L435.10,108.35 L436.73,108.49 L438.37,108.63 L440.00,108.80 L443.07,109.19 L446.13,109.67 L449.20,110.18 L452.27,110.70 L455.33,111.19 L458.40,111.60 L461.47,111.94 L464.53,112.25 L467.60,112.54 L470.67,112.82 L473.73,113.10 L476.80,113.40 L479.87,113.72 L482.93,114.05 L486.00,114.38 L489.07,114.70 L492.13,115.01 L495.20,115.30 L497.97,115.54 L500.73,115.77 L503.50,116.00 L506.27,116.21 L509.03,116.41 L511.80,116.60" fill="none" stroke="#8236a0" stroke-width="1.50" stroke-dasharray="4.4,3.6" stroke-linejoin="round" />
<rect x="494.00" y="10.10" width="45.50" height="38.20" fill="#fff" stroke="#b0b0b0" stroke-width="0.7"/>
<line x1="496.20" y1="15.80" x2="512.20" y2="15.80" stroke="#1d7ccb" stroke-width="1.50"/>
<text x="514.00" y="18.68" class="lg" style="font-size:8.00px" textLength="23.00" lengthAdjust="spacingAndGlyphs"><tspan font-style="italic">&#945;</tspan> = 0.1</text>
<line x1="496.20" y1="25.10" x2="512.20" y2="25.10" stroke="#dc5a22" stroke-width="1.50" stroke-dasharray="3.2,1.1,1.0,1.1"/>
<text x="514.00" y="27.98" class="lg" style="font-size:8.00px" textLength="23.00" lengthAdjust="spacingAndGlyphs"><tspan font-style="italic">&#945;</tspan> = 0.3</text>
<line x1="496.20" y1="34.40" x2="512.20" y2="34.40" stroke="#efb53a" stroke-width="1.50" stroke-dasharray="0.9,0.8"/>
<text x="514.00" y="37.28" class="lg" style="font-size:8.00px" textLength="23.00" lengthAdjust="spacingAndGlyphs"><tspan font-style="italic">&#945;</tspan> = 0.6</text>
<line x1="496.20" y1="43.50" x2="512.20" y2="43.50" stroke="#8236a0" stroke-width="1.50" stroke-dasharray="4.5,4.5" stroke-dashoffset="-0.4"/>
<text x="514.00" y="46.38" class="lg" style="font-size:8.00px" textLength="23.00" lengthAdjust="spacingAndGlyphs"><tspan font-style="italic">&#945;</tspan> = 0.8</text>
<text x="420.60" y="196.70" class="ax" style="font-size:10.60px;font-style:italic">t</text>
<text x="427.80" y="196.70" class="ax" style="font-size:10.60px" textLength="19.20" lengthAdjust="spacingAndGlyphs">(sec)</text>
<text transform="translate(305.50,0) rotate(-90)" x="-109.30" y="0.00" class="ax" style="font-size:11.00px;font-style:italic">x</text>
<text transform="translate(305.50,0) rotate(-90)" x="-103.40" y="1.60" class="ax" style="font-size:7.00px">1</text>
<text transform="translate(305.50,0) rotate(-90)" x="-95.80" y="0.00" class="ax" style="font-size:10.00px" textLength="20.40" lengthAdjust="spacingAndGlyphs">(rad)</text>
<text x="389.90" y="216.10" class="cap" style="font-size:9.90px;font-weight:bold" textLength="12.30" lengthAdjust="spacingAndGlyphs">(b)</text>
<text x="406.30" y="216.10" class="cap" style="font-size:9.90px" textLength="61.30" lengthAdjust="spacingAndGlyphs">LOS angle error</text>
<rect x="33.20" y="246.10" width="219.20" height="172.90" fill="none" stroke="#b0b0b0" stroke-width="0.8"/>
<line x1="33.20" y1="419.00" x2="33.20" y2="417.00" stroke="#b0b0b0" stroke-width="0.6"/>
<line x1="33.20" y1="246.10" x2="33.20" y2="248.10" stroke="#b0b0b0" stroke-width="0.6"/>
<text x="31.59" y="427.80" class="tk" textLength="3.23" lengthAdjust="spacingAndGlyphs">0</text>
<line x1="57.56" y1="419.00" x2="57.56" y2="417.00" stroke="#b0b0b0" stroke-width="0.6"/>
<line x1="57.56" y1="246.10" x2="57.56" y2="248.10" stroke="#b0b0b0" stroke-width="0.6"/>
<text x="55.94" y="427.80" class="tk" textLength="3.23" lengthAdjust="spacingAndGlyphs">2</text>
<line x1="81.91" y1="419.00" x2="81.91" y2="417.00" stroke="#b0b0b0" stroke-width="0.6"/>
<line x1="81.91" y1="246.10" x2="81.91" y2="248.10" stroke="#b0b0b0" stroke-width="0.6"/>
<text x="80.30" y="427.80" class="tk" textLength="3.23" lengthAdjust="spacingAndGlyphs">4</text>
<line x1="106.27" y1="419.00" x2="106.27" y2="417.00" stroke="#b0b0b0" stroke-width="0.6"/>
<line x1="106.27" y1="246.10" x2="106.27" y2="248.10" stroke="#b0b0b0" stroke-width="0.6"/>
<text x="104.65" y="427.80" class="tk" textLength="3.23" lengthAdjust="spacingAndGlyphs">6</text>
<line x1="130.62" y1="419.00" x2="130.62" y2="417.00" stroke="#b0b0b0" stroke-width="0.6"/>
<line x1="130.62" y1="246.10" x2="130.62" y2="248.10" stroke="#b0b0b0" stroke-width="0.6"/>
<text x="129.01" y="427.80" class="tk" textLength="3.23" lengthAdjust="spacingAndGlyphs">8</text>
<line x1="154.98" y1="419.00" x2="154.98" y2="417.00" stroke="#b0b0b0" stroke-width="0.6"/>
<line x1="154.98" y1="246.10" x2="154.98" y2="248.10" stroke="#b0b0b0" stroke-width="0.6"/>
<text x="151.75" y="427.80" class="tk" textLength="6.45" lengthAdjust="spacingAndGlyphs">10</text>
<line x1="179.33" y1="419.00" x2="179.33" y2="417.00" stroke="#b0b0b0" stroke-width="0.6"/>
<line x1="179.33" y1="246.10" x2="179.33" y2="248.10" stroke="#b0b0b0" stroke-width="0.6"/>
<text x="176.11" y="427.80" class="tk" textLength="6.45" lengthAdjust="spacingAndGlyphs">12</text>
<line x1="203.69" y1="419.00" x2="203.69" y2="417.00" stroke="#b0b0b0" stroke-width="0.6"/>
<line x1="203.69" y1="246.10" x2="203.69" y2="248.10" stroke="#b0b0b0" stroke-width="0.6"/>
<text x="200.46" y="427.80" class="tk" textLength="6.45" lengthAdjust="spacingAndGlyphs">14</text>
<line x1="228.04" y1="419.00" x2="228.04" y2="417.00" stroke="#b0b0b0" stroke-width="0.6"/>
<line x1="228.04" y1="246.10" x2="228.04" y2="248.10" stroke="#b0b0b0" stroke-width="0.6"/>
<text x="224.82" y="427.80" class="tk" textLength="6.45" lengthAdjust="spacingAndGlyphs">16</text>
<line x1="252.40" y1="419.00" x2="252.40" y2="417.00" stroke="#b0b0b0" stroke-width="0.6"/>
<line x1="252.40" y1="246.10" x2="252.40" y2="248.10" stroke="#b0b0b0" stroke-width="0.6"/>
<text x="249.17" y="427.80" class="tk" textLength="6.45" lengthAdjust="spacingAndGlyphs">18</text>
<line x1="33.20" y1="246.10" x2="35.20" y2="246.10" stroke="#b0b0b0" stroke-width="0.6"/>
<line x1="252.40" y1="246.10" x2="250.40" y2="246.10" stroke="#b0b0b0" stroke-width="0.6"/>
<text x="26.97" y="248.70" class="tk" textLength="3.23" lengthAdjust="spacingAndGlyphs">0</text>
<line x1="33.20" y1="274.92" x2="35.20" y2="274.92" stroke="#b0b0b0" stroke-width="0.6"/>
<line x1="252.40" y1="274.92" x2="250.40" y2="274.92" stroke="#b0b0b0" stroke-width="0.6"/>
<text x="16.98" y="277.52" class="tk" textLength="13.22" lengthAdjust="spacingAndGlyphs">-0.02</text>
<line x1="33.20" y1="303.73" x2="35.20" y2="303.73" stroke="#b0b0b0" stroke-width="0.6"/>
<line x1="252.40" y1="303.73" x2="250.40" y2="303.73" stroke="#b0b0b0" stroke-width="0.6"/>
<text x="16.98" y="306.33" class="tk" textLength="13.22" lengthAdjust="spacingAndGlyphs">-0.04</text>
<line x1="33.20" y1="332.55" x2="35.20" y2="332.55" stroke="#b0b0b0" stroke-width="0.6"/>
<line x1="252.40" y1="332.55" x2="250.40" y2="332.55" stroke="#b0b0b0" stroke-width="0.6"/>
<text x="16.98" y="335.15" class="tk" textLength="13.22" lengthAdjust="spacingAndGlyphs">-0.06</text>
<line x1="33.20" y1="361.37" x2="35.20" y2="361.37" stroke="#b0b0b0" stroke-width="0.6"/>
<line x1="252.40" y1="361.37" x2="250.40" y2="361.37" stroke="#b0b0b0" stroke-width="0.6"/>
<text x="16.98" y="363.97" class="tk" textLength="13.22" lengthAdjust="spacingAndGlyphs">-0.08</text>
<line x1="33.20" y1="390.18" x2="35.20" y2="390.18" stroke="#b0b0b0" stroke-width="0.6"/>
<line x1="252.40" y1="390.18" x2="250.40" y2="390.18" stroke="#b0b0b0" stroke-width="0.6"/>
<text x="20.21" y="392.78" class="tk" textLength="9.99" lengthAdjust="spacingAndGlyphs">-0.1</text>
<line x1="33.20" y1="419.00" x2="35.20" y2="419.00" stroke="#b0b0b0" stroke-width="0.6"/>
<line x1="252.40" y1="419.00" x2="250.40" y2="419.00" stroke="#b0b0b0" stroke-width="0.6"/>
<text x="16.98" y="421.60" class="tk" textLength="13.22" lengthAdjust="spacingAndGlyphs">-0.12</text>
<path d="M33.30,366.00 L33.52,364.64 L33.73,363.60 L33.95,362.85 L34.17,362.36 L34.38,362.08 L34.60,362.00 L34.77,362.17 L34.93,362.64 L35.10,363.33 L35.27,364.17 L35.43,365.08 L35.60,366.00 L35.82,367.42 L36.03,369.23 L36.25,371.28 L36.47,373.40 L36.68,375.43 L36.90,377.20 L37.12,378.77 L37.33,380.30 L37.55,381.76 L37.77,383.13 L37.98,384.38 L38.20,385.50 L38.42,386.49 L38.63,387.38 L38.85,388.20 L39.07,388.98 L39.28,389.74 L39.50,390.50 L39.67,391.11 L39.83,391.75 L40.00,392.37 L40.17,392.94 L40.33,393.43 L40.50,393.80 L40.65,394.07 L40.80,394.32 L40.95,394.55 L41.10,394.73 L41.25,394.86 L41.40,394.90 L41.58,394.89 L41.77,394.84 L41.95,394.78 L42.13,394.70 L42.32,394.60 L42.50,394.50 L42.73,394.30 L42.97,393.99 L43.20,393.59 L43.43,393.11 L43.67,392.57 L43.90,392.00 L44.33,390.64 L44.77,388.83 L45.20,386.64 L45.63,384.19 L46.07,381.58 L46.50,378.90 L46.93,376.02 L47.37,372.78 L47.80,369.29 L48.23,365.62 L48.67,361.86 L49.10,358.10 L49.53,354.35 L49.97,350.53 L50.40,346.60 L50.83,342.55 L51.27,338.32 L51.70,333.90 L51.90,331.70 L52.10,329.34 L52.30,326.91 L52.50,324.48 L52.70,322.15 L52.90,320.00 L53.08,318.14 L53.27,316.31 L53.45,314.55 L53.63,312.88 L53.82,311.36 L54.00,310.00 L54.33,307.89 L54.67,306.06 L55.00,304.41 L55.33,302.82 L55.67,301.19 L56.00,299.40 L56.32,297.54 L56.63,295.58 L56.95,293.58 L57.27,291.57 L57.58,289.60 L57.90,287.70 L58.33,285.15 L58.77,282.59 L59.20,280.07 L59.63,277.66 L60.07,275.42 L60.50,273.40 L61.05,271.05 L61.60,268.80 L62.15,266.70 L62.70,264.79 L63.25,263.11 L63.80,261.70 L64.45,260.30 L65.10,259.06 L65.75,257.96 L66.40,256.97 L67.05,256.06 L67.70,255.20 L68.08,254.73 L68.47,254.29 L68.85,253.88 L69.23,253.48 L69.62,253.09 L70.00,252.70 L70.60,252.05 L71.20,251.37 L71.80,250.69 L72.40,250.07 L73.00,249.53 L73.60,249.10 L74.52,248.58 L75.43,248.09 L76.35,247.67 L77.27,247.31 L78.18,247.05 L79.10,246.90 L80.62,246.76 L82.13,246.64 L83.65,246.55 L85.17,246.48 L86.68,246.43 L88.20,246.40 L93.50,246.34 L98.80,246.29 L104.10,246.25 L109.40,246.23 L114.70,246.21 L120.00,246.20 L139.27,246.17 L158.53,246.14 L177.80,246.12 L197.07,246.11 L216.33,246.10 L235.60,246.10" fill="none" stroke="#1d7ccb" stroke-width="1.50" stroke-linejoin="round" />
<path d="M33.30,375.50 L33.47,373.94 L33.63,372.42 L33.80,370.93 L33.97,369.50 L34.13,368.12 L34.30,366.80 L34.60,364.68 L34.90,362.81 L35.20,361.04 L35.50,359.20 L35.80,357.14 L36.10,354.70 L36.28,352.85 L36.47,350.65 L36.65,348.24 L36.83,345.74 L37.02,343.29 L37.20,341.00 L37.33,339.24 L37.47,337.27 L37.60,335.32 L37.73,333.63 L37.87,332.45 L38.00,332.00 L38.25,332.07 L38.50,332.26 L38.75,332.54 L39.00,332.86 L39.25,333.19 L39.50,333.50 L39.85,333.93 L40.20,334.42 L40.55,334.93 L40.90,335.43 L41.25,335.90 L41.60,336.30 L41.98,336.71 L42.37,337.14 L42.75,337.54 L43.13,337.88 L43.52,338.11 L43.90,338.20 L44.17,338.16 L44.43,338.05 L44.70,337.88 L44.97,337.68 L45.23,337.45 L45.50,337.20 L45.80,336.85 L46.10,336.39 L46.40,335.83 L46.70,335.21 L47.00,334.56 L47.30,333.90 L47.73,332.89 L48.17,331.77 L48.60,330.57 L49.03,329.33 L49.47,328.09 L49.90,326.90 L50.33,325.79 L50.77,324.73 L51.20,323.68 L51.63,322.57 L52.07,321.37 L52.50,320.00 L52.87,318.61 L53.23,316.98 L53.60,315.21 L53.97,313.39 L54.33,311.62 L54.70,310.00 L55.35,307.36 L56.00,304.81 L56.65,302.36 L57.30,299.99 L57.95,297.70 L58.60,295.50 L59.25,293.37 L59.90,291.30 L60.55,289.29 L61.20,287.37 L61.85,285.54 L62.50,283.80 L63.37,281.59 L64.23,279.47 L65.10,277.44 L65.97,275.52 L66.83,273.74 L67.70,272.10 L68.57,270.59 L69.43,269.16 L70.30,267.83 L71.17,266.57 L72.03,265.40 L72.90,264.30 L74.17,262.78 L75.43,261.32 L76.70,259.96 L77.97,258.71 L79.23,257.58 L80.50,256.60 L81.78,255.71 L83.07,254.88 L84.35,254.12 L85.63,253.45 L86.92,252.87 L88.20,252.40 L89.72,251.95 L91.23,251.55 L92.75,251.21 L94.27,250.90 L95.78,250.64 L97.30,250.40 L100.33,249.98 L103.37,249.60 L106.40,249.26 L109.43,248.97 L112.47,248.71 L115.50,248.50 L120.03,248.23 L124.57,247.99 L129.10,247.78 L133.63,247.60 L138.17,247.44 L142.70,247.30 L147.25,247.17 L151.80,247.05 L156.35,246.94 L160.90,246.84 L165.45,246.76 L170.00,246.70 L180.12,246.59 L190.23,246.50 L200.35,246.42 L210.47,246.35 L220.58,246.31 L230.70,246.30" fill="none" stroke="#dc5a22" stroke-width="1.50" stroke-dasharray="3.2,1.1,1.0,1.1" stroke-linejoin="round" />
<path d="M33.30,375.50 L33.47,373.94 L33.63,372.42 L33.80,370.93 L33.97,369.50 L34.13,368.12 L34.30,366.80 L34.60,364.64 L34.90,362.70 L35.20,360.85 L35.50,358.98 L35.80,356.97 L36.10,354.70 L36.38,352.21 L36.67,349.43 L36.95,346.44 L37.23,343.36 L37.52,340.28 L37.80,337.30 L38.08,334.43 L38.37,331.58 L38.65,328.74 L38.93,325.87 L39.22,322.97 L39.50,320.00 L39.67,318.17 L39.83,316.27 L40.00,314.35 L40.17,312.46 L40.33,310.66 L40.50,309.00 L40.65,307.58 L40.80,306.18 L40.95,304.83 L41.10,303.59 L41.25,302.50 L41.40,301.60 L41.62,300.53 L41.83,299.56 L42.05,298.71 L42.27,297.97 L42.48,297.33 L42.70,296.80 L43.13,295.93 L43.57,295.20 L44.00,294.58 L44.43,294.03 L44.87,293.52 L45.30,293.00 L46.30,291.84 L47.30,290.80 L48.30,289.82 L49.30,288.87 L50.30,287.91 L51.30,286.90 L52.32,285.81 L53.33,284.70 L54.35,283.58 L55.37,282.44 L56.38,281.32 L57.40,280.20 L58.90,278.56 L60.40,276.91 L61.90,275.26 L63.40,273.63 L64.90,272.04 L66.40,270.50 L67.48,269.39 L68.57,268.26 L69.65,267.15 L70.73,266.10 L71.82,265.13 L72.90,264.30 L74.08,263.52 L75.27,262.82 L76.45,262.19 L77.63,261.58 L78.82,261.00 L80.00,260.40 L80.75,260.01 L81.50,259.61 L82.25,259.22 L83.00,258.85 L83.75,258.51 L84.50,258.20 L86.63,257.42 L88.77,256.71 L90.90,256.06 L93.03,255.48 L95.17,254.96 L97.30,254.50 L100.33,253.92 L103.37,253.39 L106.40,252.91 L109.43,252.48 L112.47,252.11 L115.50,251.80 L120.03,251.41 L124.57,251.07 L129.10,250.77 L133.63,250.50 L138.17,250.25 L142.70,250.00 L147.25,249.75 L151.80,249.51 L156.35,249.28 L160.90,249.06 L165.45,248.87 L170.00,248.70 L179.42,248.39 L188.83,248.09 L198.25,247.83 L207.67,247.60 L217.08,247.42 L226.50,247.30" fill="none" stroke="#efb53a" stroke-width="1.50" stroke-dasharray="0.9,0.8" stroke-linejoin="round" />
<path d="M33.30,375.50 L33.47,373.94 L33.63,372.42 L33.80,370.93 L33.97,369.50 L34.13,368.12 L34.30,366.80 L34.60,364.64 L34.90,362.70 L35.20,360.85 L35.50,358.98 L35.80,356.97 L36.10,354.70 L36.38,352.21 L36.67,349.43 L36.95,346.44 L37.23,343.36 L37.52,340.28 L37.80,337.30 L38.08,334.45 L38.37,331.66 L38.65,328.86 L38.93,326.02 L39.22,323.09 L39.50,320.00 L39.65,318.25 L39.80,316.41 L39.95,314.51 L40.10,312.61 L40.25,310.76 L40.40,309.00 L40.62,306.50 L40.83,303.96 L41.05,301.48 L41.27,299.18 L41.48,297.15 L41.70,295.50 L42.13,292.87 L42.57,290.62 L43.00,288.67 L43.43,286.93 L43.87,285.34 L44.30,283.80 L44.95,281.55 L45.60,279.42 L46.25,277.44 L46.90,275.64 L47.55,274.05 L48.20,272.70 L49.07,271.16 L49.93,269.78 L50.80,268.54 L51.67,267.44 L52.53,266.47 L53.40,265.60 L54.48,264.63 L55.57,263.75 L56.65,262.95 L57.73,262.23 L58.82,261.58 L59.90,261.00 L60.98,260.48 L62.07,260.02 L63.15,259.60 L64.23,259.20 L65.32,258.81 L66.40,258.40 L67.83,257.84 L69.27,257.29 L70.70,256.74 L72.13,256.20 L73.57,255.69 L75.00,255.20 L76.58,254.67 L78.17,254.15 L79.75,253.65 L81.33,253.18 L82.92,252.76 L84.50,252.40 L86.63,251.99 L88.77,251.60 L90.90,251.26 L93.03,250.96 L95.17,250.70 L97.30,250.50 L100.33,250.27 L103.37,250.07 L106.40,249.90 L109.43,249.75 L112.47,249.62 L115.50,249.50 L120.03,249.33 L124.57,249.18 L129.10,249.04 L133.63,248.92 L138.17,248.81 L142.70,248.70 L147.25,248.60 L151.80,248.51 L156.35,248.43 L160.90,248.35 L165.45,248.27 L170.00,248.20 L178.60,248.07 L187.20,247.94 L195.80,247.82 L204.40,247.70 L213.00,247.60 L221.60,247.50" fill="none" stroke="#8236a0" stroke-width="1.50" stroke-dasharray="4.4,3.6" stroke-linejoin="round" />
<rect x="202.10" y="376.40" width="46.20" height="38.50" fill="#fff" stroke="#b0b0b0" stroke-width="0.7"/>
<line x1="204.80" y1="382.00" x2="221.00" y2="382.00" stroke="#1d7ccb" stroke-width="1.50"/>
<text x="222.60" y="384.88" class="lg" style="font-size:8.00px" textLength="23.40" lengthAdjust="spacingAndGlyphs"><tspan font-style="italic">&#945;</tspan> = 0.1</text>
<line x1="204.80" y1="391.00" x2="221.00" y2="391.00" stroke="#dc5a22" stroke-width="1.50" stroke-dasharray="3.2,1.1,1.0,1.1"/>
<text x="222.60" y="393.88" class="lg" style="font-size:8.00px" textLength="23.40" lengthAdjust="spacingAndGlyphs"><tspan font-style="italic">&#945;</tspan> = 0.3</text>
<line x1="204.80" y1="400.60" x2="221.00" y2="400.60" stroke="#efb53a" stroke-width="1.50" stroke-dasharray="0.9,0.8"/>
<text x="222.60" y="403.48" class="lg" style="font-size:8.00px" textLength="23.40" lengthAdjust="spacingAndGlyphs"><tspan font-style="italic">&#945;</tspan> = 0.6</text>
<line x1="204.80" y1="409.70" x2="221.00" y2="409.70" stroke="#8236a0" stroke-width="1.50" stroke-dasharray="4.5,4.5" stroke-dashoffset="-0.4"/>
<text x="222.60" y="412.58" class="lg" style="font-size:8.00px" textLength="23.40" lengthAdjust="spacingAndGlyphs"><tspan font-style="italic">&#945;</tspan> = 0.8</text>
<text x="129.20" y="437.60" class="ax" style="font-size:10.60px;font-style:italic">t</text>
<text x="136.10" y="437.60" class="ax" style="font-size:10.60px" textLength="20.00" lengthAdjust="spacingAndGlyphs">(sec)</text>
<text transform="translate(11.80,0) rotate(-90)" x="-355.00" y="0.00" class="ax" style="font-size:11.00px;font-style:italic">x</text>
<text transform="translate(11.80,0) rotate(-90)" x="-349.00" y="1.60" class="ax" style="font-size:7.00px">2</text>
<text transform="translate(11.80,0) rotate(-90)" x="-340.70" y="0.00" class="ax" style="font-size:10.00px" textLength="29.30" lengthAdjust="spacingAndGlyphs">(rad/s)</text>
<text x="97.70" y="457.60" class="cap" style="font-size:9.90px;font-weight:bold" textLength="10.70" lengthAdjust="spacingAndGlyphs">(c)</text>
<text x="111.60" y="457.60" class="cap" style="font-size:9.90px" textLength="66.30" lengthAdjust="spacingAndGlyphs">LOS angular rate</text>
<rect x="324.30" y="246.30" width="219.30" height="172.70" fill="none" stroke="#b0b0b0" stroke-width="0.8"/>
<line x1="324.30" y1="419.00" x2="324.30" y2="417.00" stroke="#b0b0b0" stroke-width="0.6"/>
<line x1="324.30" y1="246.30" x2="324.30" y2="248.30" stroke="#b0b0b0" stroke-width="0.6"/>
<text x="322.69" y="427.80" class="tk" textLength="3.23" lengthAdjust="spacingAndGlyphs">0</text>
<line x1="348.67" y1="419.00" x2="348.67" y2="417.00" stroke="#b0b0b0" stroke-width="0.6"/>
<line x1="348.67" y1="246.30" x2="348.67" y2="248.30" stroke="#b0b0b0" stroke-width="0.6"/>
<text x="347.05" y="427.80" class="tk" textLength="3.23" lengthAdjust="spacingAndGlyphs">2</text>
<line x1="373.03" y1="419.00" x2="373.03" y2="417.00" stroke="#b0b0b0" stroke-width="0.6"/>
<line x1="373.03" y1="246.30" x2="373.03" y2="248.30" stroke="#b0b0b0" stroke-width="0.6"/>
<text x="371.42" y="427.80" class="tk" textLength="3.23" lengthAdjust="spacingAndGlyphs">4</text>
<line x1="397.40" y1="419.00" x2="397.40" y2="417.00" stroke="#b0b0b0" stroke-width="0.6"/>
<line x1="397.40" y1="246.30" x2="397.40" y2="248.30" stroke="#b0b0b0" stroke-width="0.6"/>
<text x="395.79" y="427.80" class="tk" textLength="3.23" lengthAdjust="spacingAndGlyphs">6</text>
<line x1="421.77" y1="419.00" x2="421.77" y2="417.00" stroke="#b0b0b0" stroke-width="0.6"/>
<line x1="421.77" y1="246.30" x2="421.77" y2="248.30" stroke="#b0b0b0" stroke-width="0.6"/>
<text x="420.15" y="427.80" class="tk" textLength="3.23" lengthAdjust="spacingAndGlyphs">8</text>
<line x1="446.13" y1="419.00" x2="446.13" y2="417.00" stroke="#b0b0b0" stroke-width="0.6"/>
<line x1="446.13" y1="246.30" x2="446.13" y2="248.30" stroke="#b0b0b0" stroke-width="0.6"/>
<text x="442.91" y="427.80" class="tk" textLength="6.45" lengthAdjust="spacingAndGlyphs">10</text>
<line x1="470.50" y1="419.00" x2="470.50" y2="417.00" stroke="#b0b0b0" stroke-width="0.6"/>
<line x1="470.50" y1="246.30" x2="470.50" y2="248.30" stroke="#b0b0b0" stroke-width="0.6"/>
<text x="467.27" y="427.80" class="tk" textLength="6.45" lengthAdjust="spacingAndGlyphs">12</text>
<line x1="494.87" y1="419.00" x2="494.87" y2="417.00" stroke="#b0b0b0" stroke-width="0.6"/>
<line x1="494.87" y1="246.30" x2="494.87" y2="248.30" stroke="#b0b0b0" stroke-width="0.6"/>
<text x="491.64" y="427.80" class="tk" textLength="6.45" lengthAdjust="spacingAndGlyphs">14</text>
<line x1="519.23" y1="419.00" x2="519.23" y2="417.00" stroke="#b0b0b0" stroke-width="0.6"/>
<line x1="519.23" y1="246.30" x2="519.23" y2="248.30" stroke="#b0b0b0" stroke-width="0.6"/>
<text x="516.01" y="427.80" class="tk" textLength="6.45" lengthAdjust="spacingAndGlyphs">16</text>
<line x1="543.60" y1="419.00" x2="543.60" y2="417.00" stroke="#b0b0b0" stroke-width="0.6"/>
<line x1="543.60" y1="246.30" x2="543.60" y2="248.30" stroke="#b0b0b0" stroke-width="0.6"/>
<text x="540.37" y="427.80" class="tk" textLength="6.45" lengthAdjust="spacingAndGlyphs">18</text>
<line x1="324.30" y1="419.00" x2="326.30" y2="419.00" stroke="#b0b0b0" stroke-width="0.6"/>
<line x1="543.60" y1="419.00" x2="541.60" y2="419.00" stroke="#b0b0b0" stroke-width="0.6"/>
<text x="310.09" y="421.60" class="tk" textLength="11.61" lengthAdjust="spacingAndGlyphs">-400</text>
<line x1="324.30" y1="397.41" x2="326.30" y2="397.41" stroke="#b0b0b0" stroke-width="0.6"/>
<line x1="543.60" y1="397.41" x2="541.60" y2="397.41" stroke="#b0b0b0" stroke-width="0.6"/>
<text x="310.09" y="400.01" class="tk" textLength="11.61" lengthAdjust="spacingAndGlyphs">-300</text>
<line x1="324.30" y1="375.82" x2="326.30" y2="375.82" stroke="#b0b0b0" stroke-width="0.6"/>
<line x1="543.60" y1="375.82" x2="541.60" y2="375.82" stroke="#b0b0b0" stroke-width="0.6"/>
<text x="310.09" y="378.43" class="tk" textLength="11.61" lengthAdjust="spacingAndGlyphs">-200</text>
<line x1="324.30" y1="354.24" x2="326.30" y2="354.24" stroke="#b0b0b0" stroke-width="0.6"/>
<line x1="543.60" y1="354.24" x2="541.60" y2="354.24" stroke="#b0b0b0" stroke-width="0.6"/>
<text x="310.09" y="356.84" class="tk" textLength="11.61" lengthAdjust="spacingAndGlyphs">-100</text>
<line x1="324.30" y1="332.65" x2="326.30" y2="332.65" stroke="#b0b0b0" stroke-width="0.6"/>
<line x1="543.60" y1="332.65" x2="541.60" y2="332.65" stroke="#b0b0b0" stroke-width="0.6"/>
<text x="318.47" y="335.25" class="tk" textLength="3.23" lengthAdjust="spacingAndGlyphs">0</text>
<line x1="324.30" y1="311.06" x2="326.30" y2="311.06" stroke="#b0b0b0" stroke-width="0.6"/>
<line x1="543.60" y1="311.06" x2="541.60" y2="311.06" stroke="#b0b0b0" stroke-width="0.6"/>
<text x="312.02" y="313.66" class="tk" textLength="9.68" lengthAdjust="spacingAndGlyphs">100</text>
<line x1="324.30" y1="289.48" x2="326.30" y2="289.48" stroke="#b0b0b0" stroke-width="0.6"/>
<line x1="543.60" y1="289.48" x2="541.60" y2="289.48" stroke="#b0b0b0" stroke-width="0.6"/>
<text x="312.02" y="292.08" class="tk" textLength="9.68" lengthAdjust="spacingAndGlyphs">200</text>
<line x1="324.30" y1="267.89" x2="326.30" y2="267.89" stroke="#b0b0b0" stroke-width="0.6"/>
<line x1="543.60" y1="267.89" x2="541.60" y2="267.89" stroke="#b0b0b0" stroke-width="0.6"/>
<text x="312.02" y="270.49" class="tk" textLength="9.68" lengthAdjust="spacingAndGlyphs">300</text>
<line x1="324.30" y1="246.30" x2="326.30" y2="246.30" stroke="#b0b0b0" stroke-width="0.6"/>
<line x1="543.60" y1="246.30" x2="541.60" y2="246.30" stroke="#b0b0b0" stroke-width="0.6"/>
<text x="312.02" y="248.90" class="tk" textLength="9.68" lengthAdjust="spacingAndGlyphs">400</text>
<path d="M324.40,417.80 L325.90,417.80 L326.40,250.30 L327.30,247.30 L329.50,247.30 L330.40,251.30 L331.70,305.00 L333.20,345.00 L334.40,360.00 L334.62,365.98 L334.84,371.58 L335.06,376.69 L335.28,381.21 L335.50,385.00 L335.76,388.78 L336.02,392.11 L336.28,395.06 L336.54,397.67 L336.80,400.00 L337.10,402.50 L337.40,404.84 L337.70,406.92 L338.00,408.68 L338.30,410.00 L338.70,411.42 L339.10,412.73 L339.50,413.80 L339.90,414.53 L340.30,414.80 L340.68,414.66 L341.06,414.30 L341.44,413.77 L341.82,413.15 L342.20,412.50 L342.66,411.55 L343.12,410.31 L343.58,408.89 L344.04,407.42 L344.50,406.00 L345.06,404.36 L345.62,402.70 L346.18,401.01 L346.74,399.25 L347.30,397.40 L347.90,395.27 L348.50,393.01 L349.10,390.67 L349.70,388.31 L350.30,386.00 L350.90,383.78 L351.50,381.62 L352.10,379.43 L352.70,377.15 L353.30,374.70 L353.78,372.45 L354.26,369.93 L354.74,367.37 L355.22,364.99 L355.70,363.00 L356.16,361.43 L356.62,360.00 L357.08,358.71 L357.54,357.55 L358.00,356.50 L358.40,355.67 L358.80,354.92 L359.20,354.22 L359.60,353.58 L360.00,353.00 L360.60,352.15 L361.20,351.33 L361.80,350.58 L362.40,349.99 L363.00,349.60 L364.22,349.15 L365.44,348.83 L366.66,348.59 L367.88,348.36 L369.10,348.10 L370.32,347.81 L371.54,347.54 L372.76,347.26 L373.98,346.96 L375.20,346.60 L376.40,346.17 L377.60,345.67 L378.80,345.11 L380.00,344.52 L381.20,343.90 L382.42,343.24 L383.64,342.52 L384.86,341.76 L386.08,340.98 L387.30,340.20 L388.14,339.66 L388.98,339.12 L389.82,338.57 L390.66,337.99 L391.50,337.40 L392.80,336.42 L394.10,335.39 L395.40,334.33 L396.70,333.26 L398.00,332.20 L399.30,331.15 L400.60,330.10 L401.90,329.06 L403.20,328.02 L404.50,327.00 L405.40,326.29 L406.30,325.57 L407.20,324.87 L408.10,324.20 L409.00,323.60 L410.30,322.79 L411.60,322.01 L412.90,321.29 L414.20,320.67 L415.50,320.20 L416.82,319.80 L418.14,319.42 L419.46,319.10 L420.78,318.88 L422.10,318.80 L423.40,318.92 L424.70,319.23 L426.00,319.67 L427.30,320.18 L428.60,320.70 L430.14,321.38 L431.68,322.21 L433.22,323.14 L434.76,324.12 L436.30,325.10 L437.04,325.57 L437.78,326.07 L438.52,326.57 L439.26,327.09 L440.00,327.60 L441.30,328.49 L442.60,329.37 L443.90,330.27 L445.20,331.21 L446.50,332.20 L447.82,333.30 L449.14,334.49 L450.46,335.72 L451.78,336.94 L453.10,338.10 L454.40,339.23 L455.70,340.39 L457.00,341.50 L458.30,342.50 L459.60,343.30 L460.92,343.98 L462.24,344.60 L463.56,345.14 L464.88,345.58 L466.20,345.90 L467.28,346.11 L468.36,346.30 L469.44,346.45 L470.52,346.56 L471.60,346.60 L472.70,346.52 L473.80,346.29 L474.90,345.97 L476.00,345.59 L477.10,345.20 L478.40,344.65 L479.70,343.95 L481.00,343.14 L482.30,342.28 L483.60,341.40 L485.14,340.32 L486.68,339.16 L488.22,337.93 L489.76,336.67 L491.30,335.40 L492.04,334.77 L492.78,334.12 L493.52,333.46 L494.26,332.81 L495.00,332.20 L496.00,331.43 L497.00,330.71 L498.00,330.00 L499.00,329.28 L500.00,328.50 L500.74,327.86 L501.48,327.17 L502.22,326.47 L502.96,325.80 L503.70,325.20 L504.58,324.57 L505.46,323.98 L506.34,323.43 L507.22,322.90 L508.10,322.40 L508.98,321.91 L509.86,321.44 L510.74,321.00 L511.62,320.58 L512.50,320.20 L513.36,319.85 L514.22,319.51 L515.08,319.19 L515.94,318.92 L516.80,318.70 L517.54,318.53 L518.28,318.37 L519.02,318.23 L519.76,318.14 L520.50,318.10 L521.50,318.13 L522.50,318.24 L523.50,318.41 L524.50,318.67 L525.50,319.00" fill="none" stroke="#1d7ccb" stroke-width="1.50" stroke-linejoin="round" />
<path d="M324.40,247.30 L324.40,417.80 L328.80,417.80 L329.60,345.00 L330.30,318.00 L331.70,311.50 L334.10,322.30 L335.90,331.00 L337.60,341.40 L337.84,343.83 L338.08,346.12 L338.32,348.20 L338.56,350.02 L338.80,351.50 L339.14,353.21 L339.48,354.68 L339.82,355.96 L340.16,357.06 L340.50,358.00 L340.92,359.01 L341.34,359.88 L341.76,360.65 L342.18,361.35 L342.60,362.00 L343.08,362.73 L343.56,363.43 L344.04,364.06 L344.52,364.60 L345.00,365.00 L345.54,365.35 L346.08,365.68 L346.62,365.95 L347.16,366.13 L347.70,366.20 L348.26,366.16 L348.82,366.05 L349.38,365.89 L349.94,365.70 L350.50,365.50 L351.22,365.19 L351.94,364.79 L352.66,364.32 L353.38,363.81 L354.10,363.30 L355.28,362.39 L356.46,361.35 L357.64,360.27 L358.82,359.23 L360.00,358.30 L361.22,357.45 L362.44,356.66 L363.66,355.90 L364.88,355.19 L366.10,354.50 L367.30,353.86 L368.50,353.26 L369.70,352.68 L370.90,352.10 L372.10,351.50 L373.32,350.89 L374.54,350.28 L375.76,349.66 L376.98,349.01 L378.20,348.30 L379.40,347.54 L380.60,346.72 L381.80,345.84 L383.00,344.93 L384.20,344.00 L385.66,342.80 L387.12,341.52 L388.58,340.20 L390.04,338.88 L391.50,337.60 L392.80,336.50 L394.10,335.41 L395.40,334.33 L396.70,333.26 L398.00,332.20 L399.30,331.14 L400.60,330.09 L401.90,329.05 L403.20,328.02 L404.50,327.00 L405.40,326.29 L406.30,325.57 L407.20,324.87 L408.10,324.20 L409.00,323.60 L410.30,322.79 L411.60,322.01 L412.90,321.29 L414.20,320.67 L415.50,320.20 L416.82,319.80 L418.14,319.42 L419.46,319.10 L420.78,318.88 L422.10,318.80 L423.40,318.92 L424.70,319.23 L426.00,319.67 L427.30,320.18 L428.60,320.70 L430.14,321.38 L431.68,322.21 L433.22,323.14 L434.76,324.12 L436.30,325.10 L437.04,325.57 L437.78,326.07 L438.52,326.57 L439.26,327.09 L440.00,327.60 L441.30,328.49 L442.60,329.37 L443.90,330.27 L445.20,331.21 L446.50,332.20 L447.82,333.30 L449.14,334.49 L450.46,335.72 L451.78,336.94 L453.10,338.10 L454.40,339.23 L455.70,340.39 L457.00,341.50 L458.30,342.50 L459.60,343.30 L460.92,343.98 L462.24,344.60 L463.56,345.14 L464.88,345.58 L466.20,345.90 L467.28,346.11 L468.36,346.30 L469.44,346.45 L470.52,346.56 L471.60,346.60 L472.70,346.52 L473.80,346.29 L474.90,345.97 L476.00,345.59 L477.10,345.20 L478.40,344.65 L479.70,343.95 L481.00,343.14 L482.30,342.28 L483.60,341.40 L485.14,340.32 L486.68,339.16 L488.22,337.93 L489.76,336.67 L491.30,335.40 L492.04,334.77 L492.78,334.12 L493.52,333.46 L494.26,332.81 L495.00,332.20 L496.00,331.43 L497.00,330.71 L498.00,330.00 L499.00,329.28 L500.00,328.50 L500.74,327.86 L501.48,327.17 L502.22,326.47 L502.96,325.80 L503.70,325.20 L504.58,324.57 L505.46,323.98 L506.34,323.43 L507.22,322.90 L508.10,322.40 L508.98,321.91 L509.86,321.44 L510.74,321.00 L511.62,320.58 L512.50,320.20 L513.36,319.85 L514.22,319.51 L515.08,319.19 L515.94,318.92 L516.80,318.70 L517.54,318.54 L518.28,318.40 L519.02,318.27 L519.76,318.17 L520.50,318.10" fill="none" stroke="#dc5a22" stroke-width="1.50" stroke-dasharray="3.2,1.1,1.0,1.1" stroke-linejoin="round" />
<path d="M324.40,247.30 L324.40,417.80 L330.80,417.80 L331.50,380.00 L333.00,352.00 L334.80,340.00 L336.70,336.60 L337.36,336.94 L338.02,337.30 L338.68,337.69 L339.34,338.08 L340.00,338.50 L340.74,339.00 L341.48,339.52 L342.22,340.07 L342.96,340.64 L343.70,341.20 L344.56,341.88 L345.42,342.60 L346.28,343.32 L347.14,344.00 L348.00,344.60 L349.06,345.24 L350.12,345.83 L351.18,346.37 L352.24,346.89 L353.30,347.40 L354.72,348.12 L356.14,348.87 L357.56,349.57 L358.98,350.14 L360.40,350.50 L361.54,350.68 L362.68,350.85 L363.82,350.98 L364.96,351.07 L366.10,351.10 L367.30,351.06 L368.50,350.96 L369.70,350.81 L370.90,350.61 L372.10,350.40 L373.32,350.08 L374.54,349.61 L375.76,349.03 L376.98,348.38 L378.20,347.70 L379.40,346.95 L380.60,346.08 L381.80,345.13 L383.00,344.15 L384.20,343.20 L385.66,342.06 L387.12,340.91 L388.58,339.74 L390.04,338.57 L391.50,337.40 L392.80,336.36 L394.10,335.32 L395.40,334.28 L396.70,333.24 L398.00,332.20 L399.30,331.15 L400.60,330.10 L401.90,329.06 L403.20,328.02 L404.50,327.00 L405.40,326.29 L406.30,325.57 L407.20,324.87 L408.10,324.20 L409.00,323.60 L410.30,322.79 L411.60,322.01 L412.90,321.29 L414.20,320.67 L415.50,320.20 L416.82,319.80 L418.14,319.42 L419.46,319.10 L420.78,318.88 L422.10,318.80 L423.40,318.92 L424.70,319.23 L426.00,319.67 L427.30,320.18 L428.60,320.70 L430.14,321.38 L431.68,322.21 L433.22,323.14 L434.76,324.12 L436.30,325.10 L437.04,325.57 L437.78,326.07 L438.52,326.57 L439.26,327.09 L440.00,327.60 L441.30,328.49 L442.60,329.37 L443.90,330.27 L445.20,331.21 L446.50,332.20 L447.82,333.30 L449.14,334.49 L450.46,335.72 L451.78,336.94 L453.10,338.10 L454.40,339.23 L455.70,340.39 L457.00,341.50 L458.30,342.50 L459.60,343.30 L460.92,343.98 L462.24,344.60 L463.56,345.14 L464.88,345.58 L466.20,345.90 L467.28,346.11 L468.36,346.30 L469.44,346.45 L470.52,346.56 L471.60,346.60 L472.70,346.52 L473.80,346.29 L474.90,345.97 L476.00,345.59 L477.10,345.20 L478.40,344.65 L479.70,343.95 L481.00,343.14 L482.30,342.28 L483.60,341.40 L485.14,340.32 L486.68,339.16 L488.22,337.93 L489.76,336.67 L491.30,335.40 L492.04,334.77 L492.78,334.12 L493.52,333.46 L494.26,332.81 L495.00,332.20 L496.00,331.43 L497.00,330.71 L498.00,330.00 L499.00,329.28 L500.00,328.50 L500.74,327.86 L501.48,327.17 L502.22,326.47 L502.96,325.80 L503.70,325.20 L504.58,324.57 L505.46,323.98 L506.34,323.43 L507.22,322.90 L508.10,322.40 L508.98,321.92 L509.86,321.45 L510.74,321.01 L511.62,320.59 L512.50,320.20" fill="none" stroke="#efb53a" stroke-width="1.50" stroke-dasharray="0.9,0.8" stroke-linejoin="round" />
<path d="M324.40,247.30 L324.40,417.80 L332.30,417.80 L333.20,395.00 L334.20,370.00 L335.50,355.00 L336.80,348.00 L338.50,344.30 L339.00,343.54 L339.50,342.83 L340.00,342.21 L340.50,341.69 L341.00,341.30 L341.56,340.95 L342.12,340.62 L342.68,340.35 L343.24,340.17 L343.80,340.10 L344.34,340.13 L344.88,340.21 L345.42,340.33 L345.96,340.46 L346.50,340.60 L347.16,340.80 L347.82,341.05 L348.48,341.34 L349.14,341.63 L349.80,341.90 L350.66,342.23 L351.52,342.55 L352.38,342.87 L353.24,343.19 L354.10,343.50 L355.28,343.91 L356.46,344.30 L357.64,344.70 L358.82,345.12 L360.00,345.60 L360.70,345.98 L361.40,346.43 L362.10,346.90 L362.80,347.28 L363.50,347.50 L364.62,347.67 L365.74,347.81 L366.86,347.91 L367.98,347.98 L369.10,348.00 L370.32,347.91 L371.54,347.69 L372.76,347.36 L373.98,346.98 L375.20,346.60 L376.40,346.18 L377.60,345.68 L378.80,345.12 L380.00,344.52 L381.20,343.90 L382.42,343.24 L383.64,342.52 L384.86,341.76 L386.08,340.98 L387.30,340.20 L388.14,339.66 L388.98,339.12 L389.82,338.57 L390.66,337.99 L391.50,337.40 L392.80,336.42 L394.10,335.39 L395.40,334.33 L396.70,333.26 L398.00,332.20 L399.30,331.15 L400.60,330.10 L401.90,329.06 L403.20,328.02 L404.50,327.00 L405.40,326.29 L406.30,325.57 L407.20,324.87 L408.10,324.20 L409.00,323.60 L410.30,322.79 L411.60,322.01 L412.90,321.29 L414.20,320.67 L415.50,320.20 L416.82,319.80 L418.14,319.42 L419.46,319.10 L420.78,318.88 L422.10,318.80 L423.40,318.92 L424.70,319.23 L426.00,319.67 L427.30,320.18 L428.60,320.70 L430.14,321.38 L431.68,322.21 L433.22,323.14 L434.76,324.12 L436.30,325.10 L437.04,325.57 L437.78,326.07 L438.52,326.57 L439.26,327.09 L440.00,327.60 L441.30,328.49 L442.60,329.37 L443.90,330.27 L445.20,331.21 L446.50,332.20 L447.82,333.30 L449.14,334.49 L450.46,335.72 L451.78,336.94 L453.10,338.10 L454.40,339.23 L455.70,340.39 L457.00,341.50 L458.30,342.50 L459.60,343.30 L460.92,343.98 L462.24,344.60 L463.56,345.14 L464.88,345.58 L466.20,345.90 L467.28,346.11 L468.36,346.30 L469.44,346.45 L470.52,346.56 L471.60,346.60 L472.70,346.52 L473.80,346.29 L474.90,345.97 L476.00,345.59 L477.10,345.20 L478.40,344.65 L479.70,343.95 L481.00,343.14 L482.30,342.28 L483.60,341.40 L485.14,340.32 L486.68,339.16 L488.22,337.93 L489.76,336.67 L491.30,335.40 L492.04,334.77 L492.78,334.12 L493.52,333.46 L494.26,332.81 L495.00,332.20 L496.00,331.43 L497.00,330.71 L498.00,330.00 L499.00,329.28 L500.00,328.50 L500.74,327.86 L501.48,327.17 L502.22,326.47 L502.96,325.80 L503.70,325.20 L504.58,324.57 L505.46,323.98 L506.34,323.43 L507.22,322.90 L508.10,322.40 L508.98,321.92 L509.86,321.45 L510.74,321.01 L511.62,320.59 L512.50,320.20" fill="none" stroke="#8236a0" stroke-width="1.50" stroke-dasharray="4.4,3.6" stroke-linejoin="round" />
<rect x="494.00" y="250.40" width="45.50" height="38.30" fill="#fff" stroke="#b0b0b0" stroke-width="0.7"/>
<line x1="496.20" y1="256.20" x2="512.20" y2="256.20" stroke="#1d7ccb" stroke-width="1.50"/>
<text x="514.00" y="259.08" class="lg" style="font-size:8.00px" textLength="23.00" lengthAdjust="spacingAndGlyphs"><tspan font-style="italic">&#945;</tspan> = 0.1</text>
<line x1="496.20" y1="265.30" x2="512.20" y2="265.30" stroke="#dc5a22" stroke-width="1.50" stroke-dasharray="3.2,1.1,1.0,1.1"/>
<text x="514.00" y="268.18" class="lg" style="font-size:8.00px" textLength="23.00" lengthAdjust="spacingAndGlyphs"><tspan font-style="italic">&#945;</tspan> = 0.3</text>
<line x1="496.20" y1="274.40" x2="512.20" y2="274.40" stroke="#efb53a" stroke-width="1.50" stroke-dasharray="0.9,0.8"/>
<text x="514.00" y="277.28" class="lg" style="font-size:8.00px" textLength="23.00" lengthAdjust="spacingAndGlyphs"><tspan font-style="italic">&#945;</tspan> = 0.6</text>
<line x1="496.20" y1="283.80" x2="512.20" y2="283.80" stroke="#8236a0" stroke-width="1.50" stroke-dasharray="4.5,4.5" stroke-dashoffset="-0.4"/>
<text x="514.00" y="286.68" class="lg" style="font-size:8.00px" textLength="23.00" lengthAdjust="spacingAndGlyphs"><tspan font-style="italic">&#945;</tspan> = 0.8</text>
<text x="420.90" y="438.00" class="ax" style="font-size:10.60px;font-style:italic">t</text>
<text x="427.40" y="438.00" class="ax" style="font-size:10.60px" textLength="19.70" lengthAdjust="spacingAndGlyphs">(sec)</text>
<text transform="translate(304.50,0) rotate(-90)" x="-350.60" y="0.00" class="ax" style="font-size:10.00px;font-style:italic">u</text>
<text transform="translate(304.50,0) rotate(-90)" x="-341.20" y="0.00" class="ax" style="font-size:10.00px" textLength="19.70" lengthAdjust="spacingAndGlyphs">(m/s</text>
<text transform="translate(304.50,0) rotate(-90)" x="-321.50" y="-5.50" class="ax" style="font-size:6.50px">2</text>
<text transform="translate(304.50,0) rotate(-90)" x="-317.50" y="0.00" class="ax" style="font-size:10.00px">)</text>
<text x="396.50" y="456.80" class="cap" style="font-size:9.90px;font-weight:bold" textLength="13.10" lengthAdjust="spacingAndGlyphs">(d)</text>
<text x="411.80" y="456.80" class="cap" style="font-size:9.90px" textLength="49.50" lengthAdjust="spacingAndGlyphs">Acceleration</text>
</svg></body></html>
